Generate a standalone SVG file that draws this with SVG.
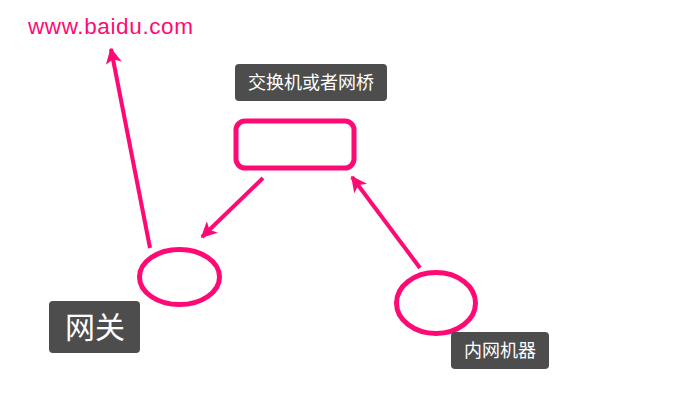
<svg xmlns="http://www.w3.org/2000/svg" width="679" height="405" viewBox="0 0 679 405">
<style>
.shape{fill:none;stroke:#ff0a74;stroke-width:5}
.conn{stroke:#ff0a74;stroke-width:4;fill:none}
.lbl{fill:#4d4d4d}
.lt{fill:#ffffff;font-family:"Noto Sans CJK SC","Noto Sans",sans-serif;text-anchor:middle}
</style>
<defs>
<marker id="ah" viewBox="0 0 10 10" refX="9" refY="5" markerWidth="4" markerHeight="4" markerUnits="strokeWidth" orient="auto">
<path d="M0,0 L10,5 L0,10 L2.5,5 Z" fill="#ff0a74"/>
</marker>
</defs>
<rect width="679" height="405" fill="#ffffff"/>
<g id="baidu">
<text x="28" y="34" font-family="'Liberation Sans','Noto Sans',sans-serif" font-size="22.5" fill="#ff0a74" textLength="165" lengthAdjust="spacing">www.baidu.com</text>
</g>
<g id="connectors">
<line class="conn" x1="150" y1="248" x2="111" y2="49" marker-end="url(#ah)"/>
<line class="conn" x1="263" y1="178" x2="202" y2="237" stroke-width="3.5" marker-end="url(#ah)"/>
<line class="conn" x1="420" y1="268" x2="352" y2="177" stroke-width="3" marker-end="url(#ah)"/>
</g>
<g id="switch">
<rect class="lbl" x="235" y="64" width="152" height="37" rx="4"/>
<text class="lt" x="311" y="89" font-size="18">交换机或者网桥</text>
<rect class="shape" x="236" y="121" width="118" height="47" rx="9"/>
</g>
<g id="gateway">
<ellipse class="shape" cx="179.5" cy="277" rx="40" ry="27.5"/>
<rect class="lbl" x="49" y="301" width="91" height="52" rx="4"/>
<text class="lt" x="95" y="338" font-size="30">网关</text>
</g>
<g id="host">
<ellipse class="shape" cx="436" cy="303" rx="39.5" ry="30.5"/>
<rect class="lbl" x="451" y="332" width="98" height="37" rx="4"/>
<text class="lt" x="500" y="357" font-size="18">内网机器</text>
</g>
</svg>
